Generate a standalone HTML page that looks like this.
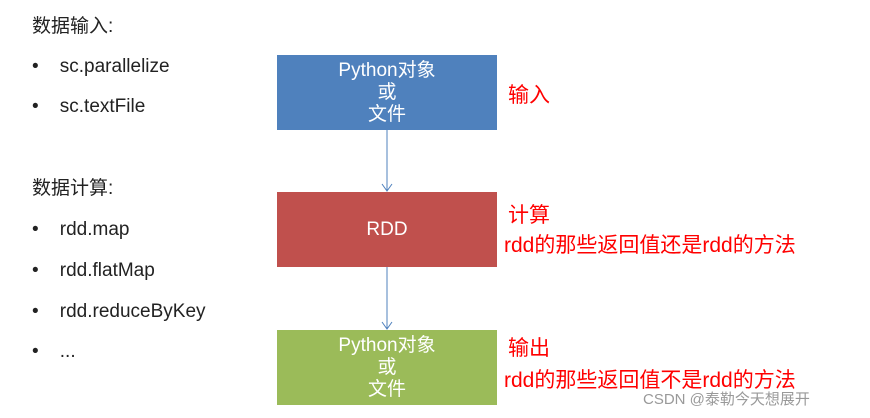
<!DOCTYPE html>
<html><head><meta charset="utf-8"><style>
body{margin:0;width:870px;height:418px;background:#fff;position:relative;overflow:hidden;font-family:"Liberation Sans","Noto Sans CJK SC",sans-serif}
.t{position:absolute;white-space:nowrap;line-height:1}
.l{font-size:19px;color:#222}
.b{position:absolute;left:277px;width:220px;height:75px;color:#fff;font-size:19px;display:flex;flex-direction:column;align-items:center;justify-content:center;line-height:22px;text-align:center}
.r{color:#f00;font-size:21px}
</style></head><body>
<div class="t l" style="left:32px;top:17px">数据输入:</div>
<div class="t l" style="left:32px;top:57px">•&nbsp;&nbsp;&nbsp;&nbsp;sc.parallelize</div>
<div class="t l" style="left:32px;top:97px">•&nbsp;&nbsp;&nbsp;&nbsp;sc.textFile</div>
<div class="t l" style="left:32px;top:179px">数据计算:</div>
<div class="t l" style="left:32px;top:220px">•&nbsp;&nbsp;&nbsp;&nbsp;rdd.map</div>
<div class="t l" style="left:32px;top:261px">•&nbsp;&nbsp;&nbsp;&nbsp;rdd.flatMap</div>
<div class="t l" style="left:32px;top:302px">•&nbsp;&nbsp;&nbsp;&nbsp;rdd.reduceByKey</div>
<div class="t l" style="left:32px;top:342px">•&nbsp;&nbsp;&nbsp;&nbsp;...</div>
<div class="b" style="top:55px;background:#4f81bd"><div>Python对象</div><div>或</div><div>文件</div></div>
<div class="b" style="top:192px;background:#c0504d">RDD</div>
<div class="b" style="top:330px;background:#9bbb59"><div>Python对象</div><div>或</div><div>文件</div></div>
<svg style="position:absolute;left:0;top:0" width="870" height="418">
<g stroke="#4f81bd" stroke-width="1" fill="none">
<line x1="387" y1="130" x2="387" y2="191"/><polyline points="382,184 387,191 392,184"/>
<line x1="387" y1="267" x2="387" y2="329"/><polyline points="382,322 387,329 392,322"/>
</g></svg>
<div class="t r" style="left:508px;top:85px">输入</div>
<div class="t r" style="left:508px;top:205px">计算</div>
<div class="t r" style="left:504px;top:235px">rdd的那些返回值还是rdd的方法</div>
<div class="t r" style="left:508px;top:338px">输出</div>
<div class="t r" style="left:504px;top:370px">rdd的那些返回值不是rdd的方法</div>
<div class="t" style="left:643px;top:392px;font-size:15px;color:#999">CSDN @泰勒今天想展开</div>
</body></html>
